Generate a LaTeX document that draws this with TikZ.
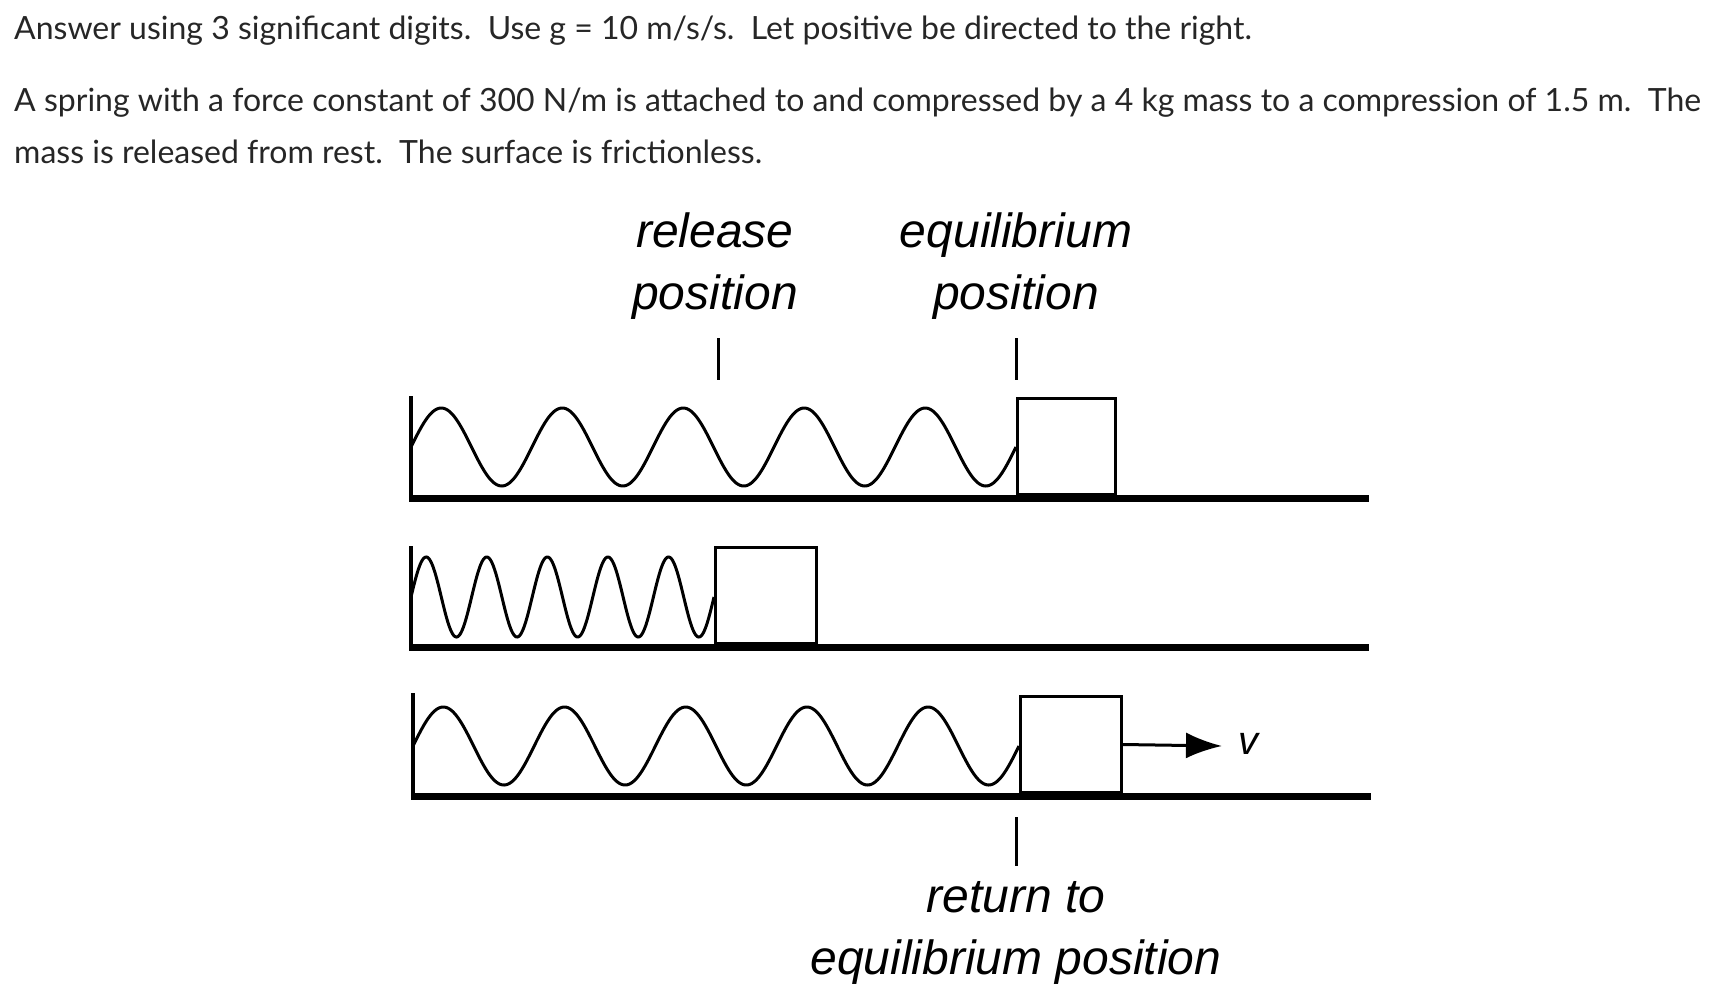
\documentclass[tikz,border=0pt]{standalone}
\usepackage{fontspec}
\usetikzlibrary{arrows.meta}
\setmainfont{Lato}
\newfontfamily\lblfont{Liberation Sans}
\begin{document}
\begin{tikzpicture}[x=1pt,y=-1pt,
  txt/.style={anchor=west,inner sep=0pt,font=\fontsize{32}{38}\selectfont,text=black!85},
  lbl/.style={inner sep=0pt,font=\lblfont\itshape\fontsize{48}{62}\selectfont,align=center},
  mass/.style={draw,line width=3pt,minimum width=#1,minimum height=96,inner sep=0pt,anchor=south west},
  ground/.style={line width=7pt},
  wall/.style={line width=4.5pt},
  spr/.style={line width=3pt,samples=400}]
\useasboundingbox (0,0) rectangle (1727,986);
\node[txt] (t1) at (14,31) {Answer using 3 significant digits.\ \ Use g = 10 m/s/s.\ \ Let positive be directed to the right.};
\node[txt] (t2) at (14,103) {A spring with a force constant of 300 N/m is attached to and compressed by a 4 kg mass to a compression of 1.5 m.\ \ The};
\node[txt] (t3) at (14,152) {mass is released from rest.\ \ The surface is frictionless.};
\node[lbl] (rel) at (715,266) {release\\position};
\node[lbl] (eq) at (1016,266) {equilibrium\\position};
\draw[line width=3pt] (718,338) -- (718,380);
\draw[line width=3pt] (1016,338) -- (1016,380);
% panel 1
\node[mass=98] (m1) at (1016,496) {};
\draw[wall] (411,396) -- (411,498);
\draw[ground] (409,498) -- (1369,498);
\draw[spr,domain=411:1016] plot (\x,{447-39*sin(1800/605*(\x-411))});
% panel 2
\node[mass=101] (m2) at (714,645) {};
\draw[wall] (411,546) -- (411,647);
\draw[ground] (409,647) -- (1369,647);
\draw[spr,domain=411:714] plot (\x,{597-40*sin(1800/303*(\x-411))});
% panel 3
\node[mass=101] (m3) at (1019,794) {};
\draw[wall] (413,693) -- (413,796);
\draw[ground] (411,796) -- (1371,796);
\draw[spr,domain=413:1019] plot (\x,{746-39*sin(1800/606*(\x-413))});
\coordinate (tip) at (1222,746);
\draw[line width=3pt,-{Latex[length=36pt,width=26pt]}] (m3.east) -- (tip);
\node[lbl,font=\lblfont\itshape\fontsize{40}{48}\selectfont] (v) at (1248,744) {v};
\draw[line width=3pt] (1016,817) -- (1016,866);
\node[lbl] (ret) at (1016,933) {return to\\equilibrium position};
\end{tikzpicture}
\end{document}
